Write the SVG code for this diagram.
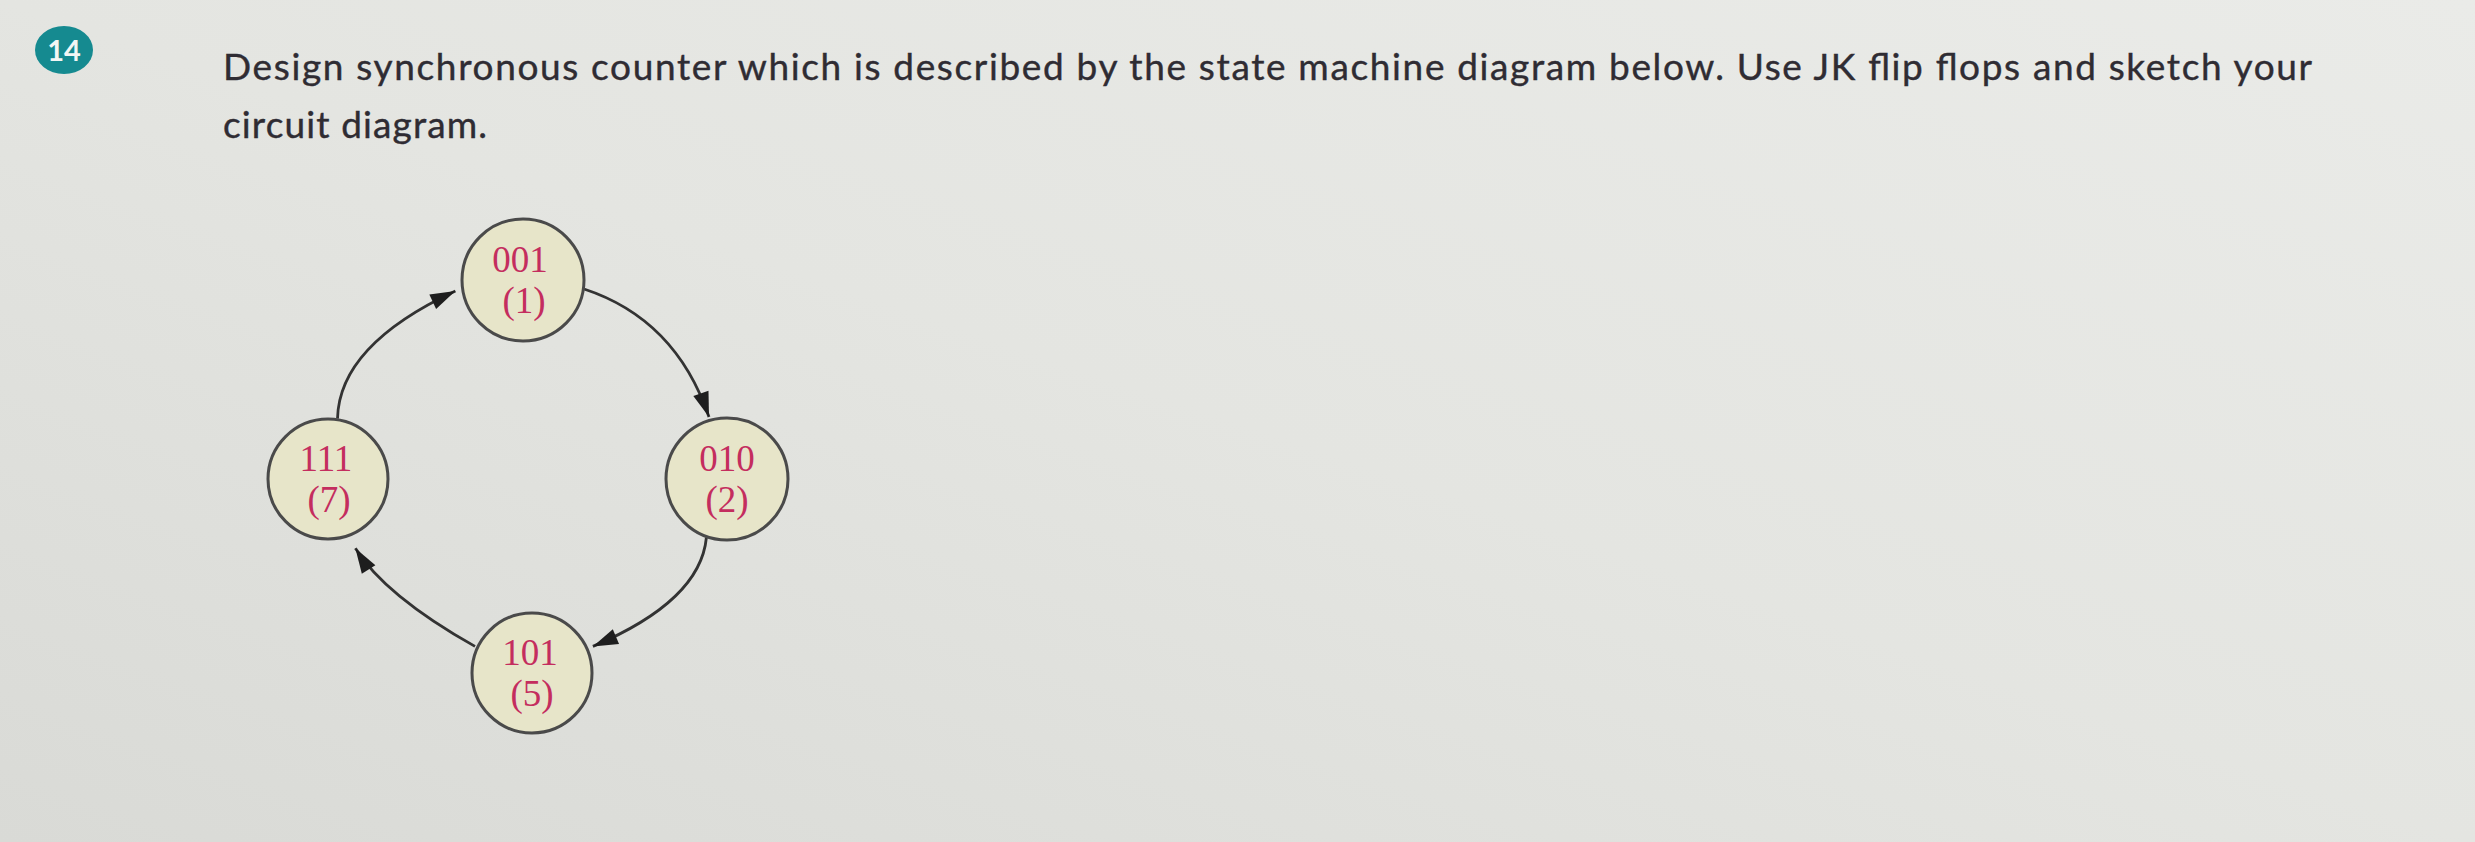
<svg xmlns="http://www.w3.org/2000/svg" width="2475" height="842" viewBox="0 0 2475 842">
  <defs>
    <linearGradient id="bg" x1="0" y1="1" x2="1" y2="0">
      <stop offset="0" stop-color="#d9dad6"/>
      <stop offset="0.5" stop-color="#e4e5e1"/>
      <stop offset="1" stop-color="#eaebe8"/>
    </linearGradient>
    <marker id="ah" markerUnits="userSpaceOnUse" markerWidth="32" markerHeight="22" viewBox="-28 -11 32 22" refX="0" refY="0" orient="auto">
      <path d="M0,0 L-25,-8 L-25,8 Z" fill="#1e1e1e"/>
    </marker>
  </defs>
  <style>
    .title { font-family: Lato, "Liberation Sans", sans-serif; font-size: 37px; fill: #2f2c33; stroke: #2f2c33; stroke-width: 0.4px; }
    .state circle { fill: #e7e5c9; stroke: #4a4a4a; stroke-width: 3; }
    .state text { font-family: "Liberation Serif", "DejaVu Serif", serif; font-size: 37px; fill: #c42d5e; text-anchor: middle; }
    .edge { fill: none; stroke: #333; stroke-width: 2.8; marker-end: url(#ah); }
  </style>
  <rect x="0" y="0" width="2475" height="842" fill="url(#bg)"/>

  <g id="badge">
    <ellipse cx="64" cy="50" rx="29" ry="24" fill="#158a90"/>
    <text x="64" y="61" font-family="Lato, 'Liberation Sans', sans-serif" font-size="29" font-weight="bold" fill="#f2f6f4" text-anchor="middle">14</text>
  </g>

  <g id="question">
    <text class="title" x="223" y="80" textLength="2089" lengthAdjust="spacing">Design synchronous counter which is described by the state machine diagram below. Use JK flip flops and sketch your</text>
    <text class="title" x="223" y="138" textLength="264" lengthAdjust="spacing">circuit diagram.</text>
  </g>

  <g id="connectors">
    <path class="edge" d="M584,289 Q675.5,319 709,417"/>
    <path class="edge" d="M706.4,537.5 Q700.4,600.9 592.9,646.4"/>
    <path class="edge" d="M475,646.4 Q384.8,595.5 355.4,548.2"/>
    <path class="edge" d="M337.5,418.6 Q339.35,345.15 455.4,291.1"/>
  </g>

  <g id="s001" class="state">
    <circle cx="523" cy="280" r="61"/>
    <text x="520" y="272">001</text>
    <text x="524" y="313">(1)</text>
  </g>
  <g id="s010" class="state">
    <circle cx="727" cy="479" r="61"/>
    <text x="727" y="471">010</text>
    <text x="727" y="512">(2)</text>
  </g>
  <g id="s101" class="state">
    <circle cx="532" cy="673" r="60"/>
    <text x="530" y="665">101</text>
    <text x="532" y="706">(5)</text>
  </g>
  <g id="s111" class="state">
    <circle cx="328" cy="479" r="60"/>
    <text x="326" y="471">111</text>
    <text x="329" y="512">(7)</text>
  </g>
</svg>
